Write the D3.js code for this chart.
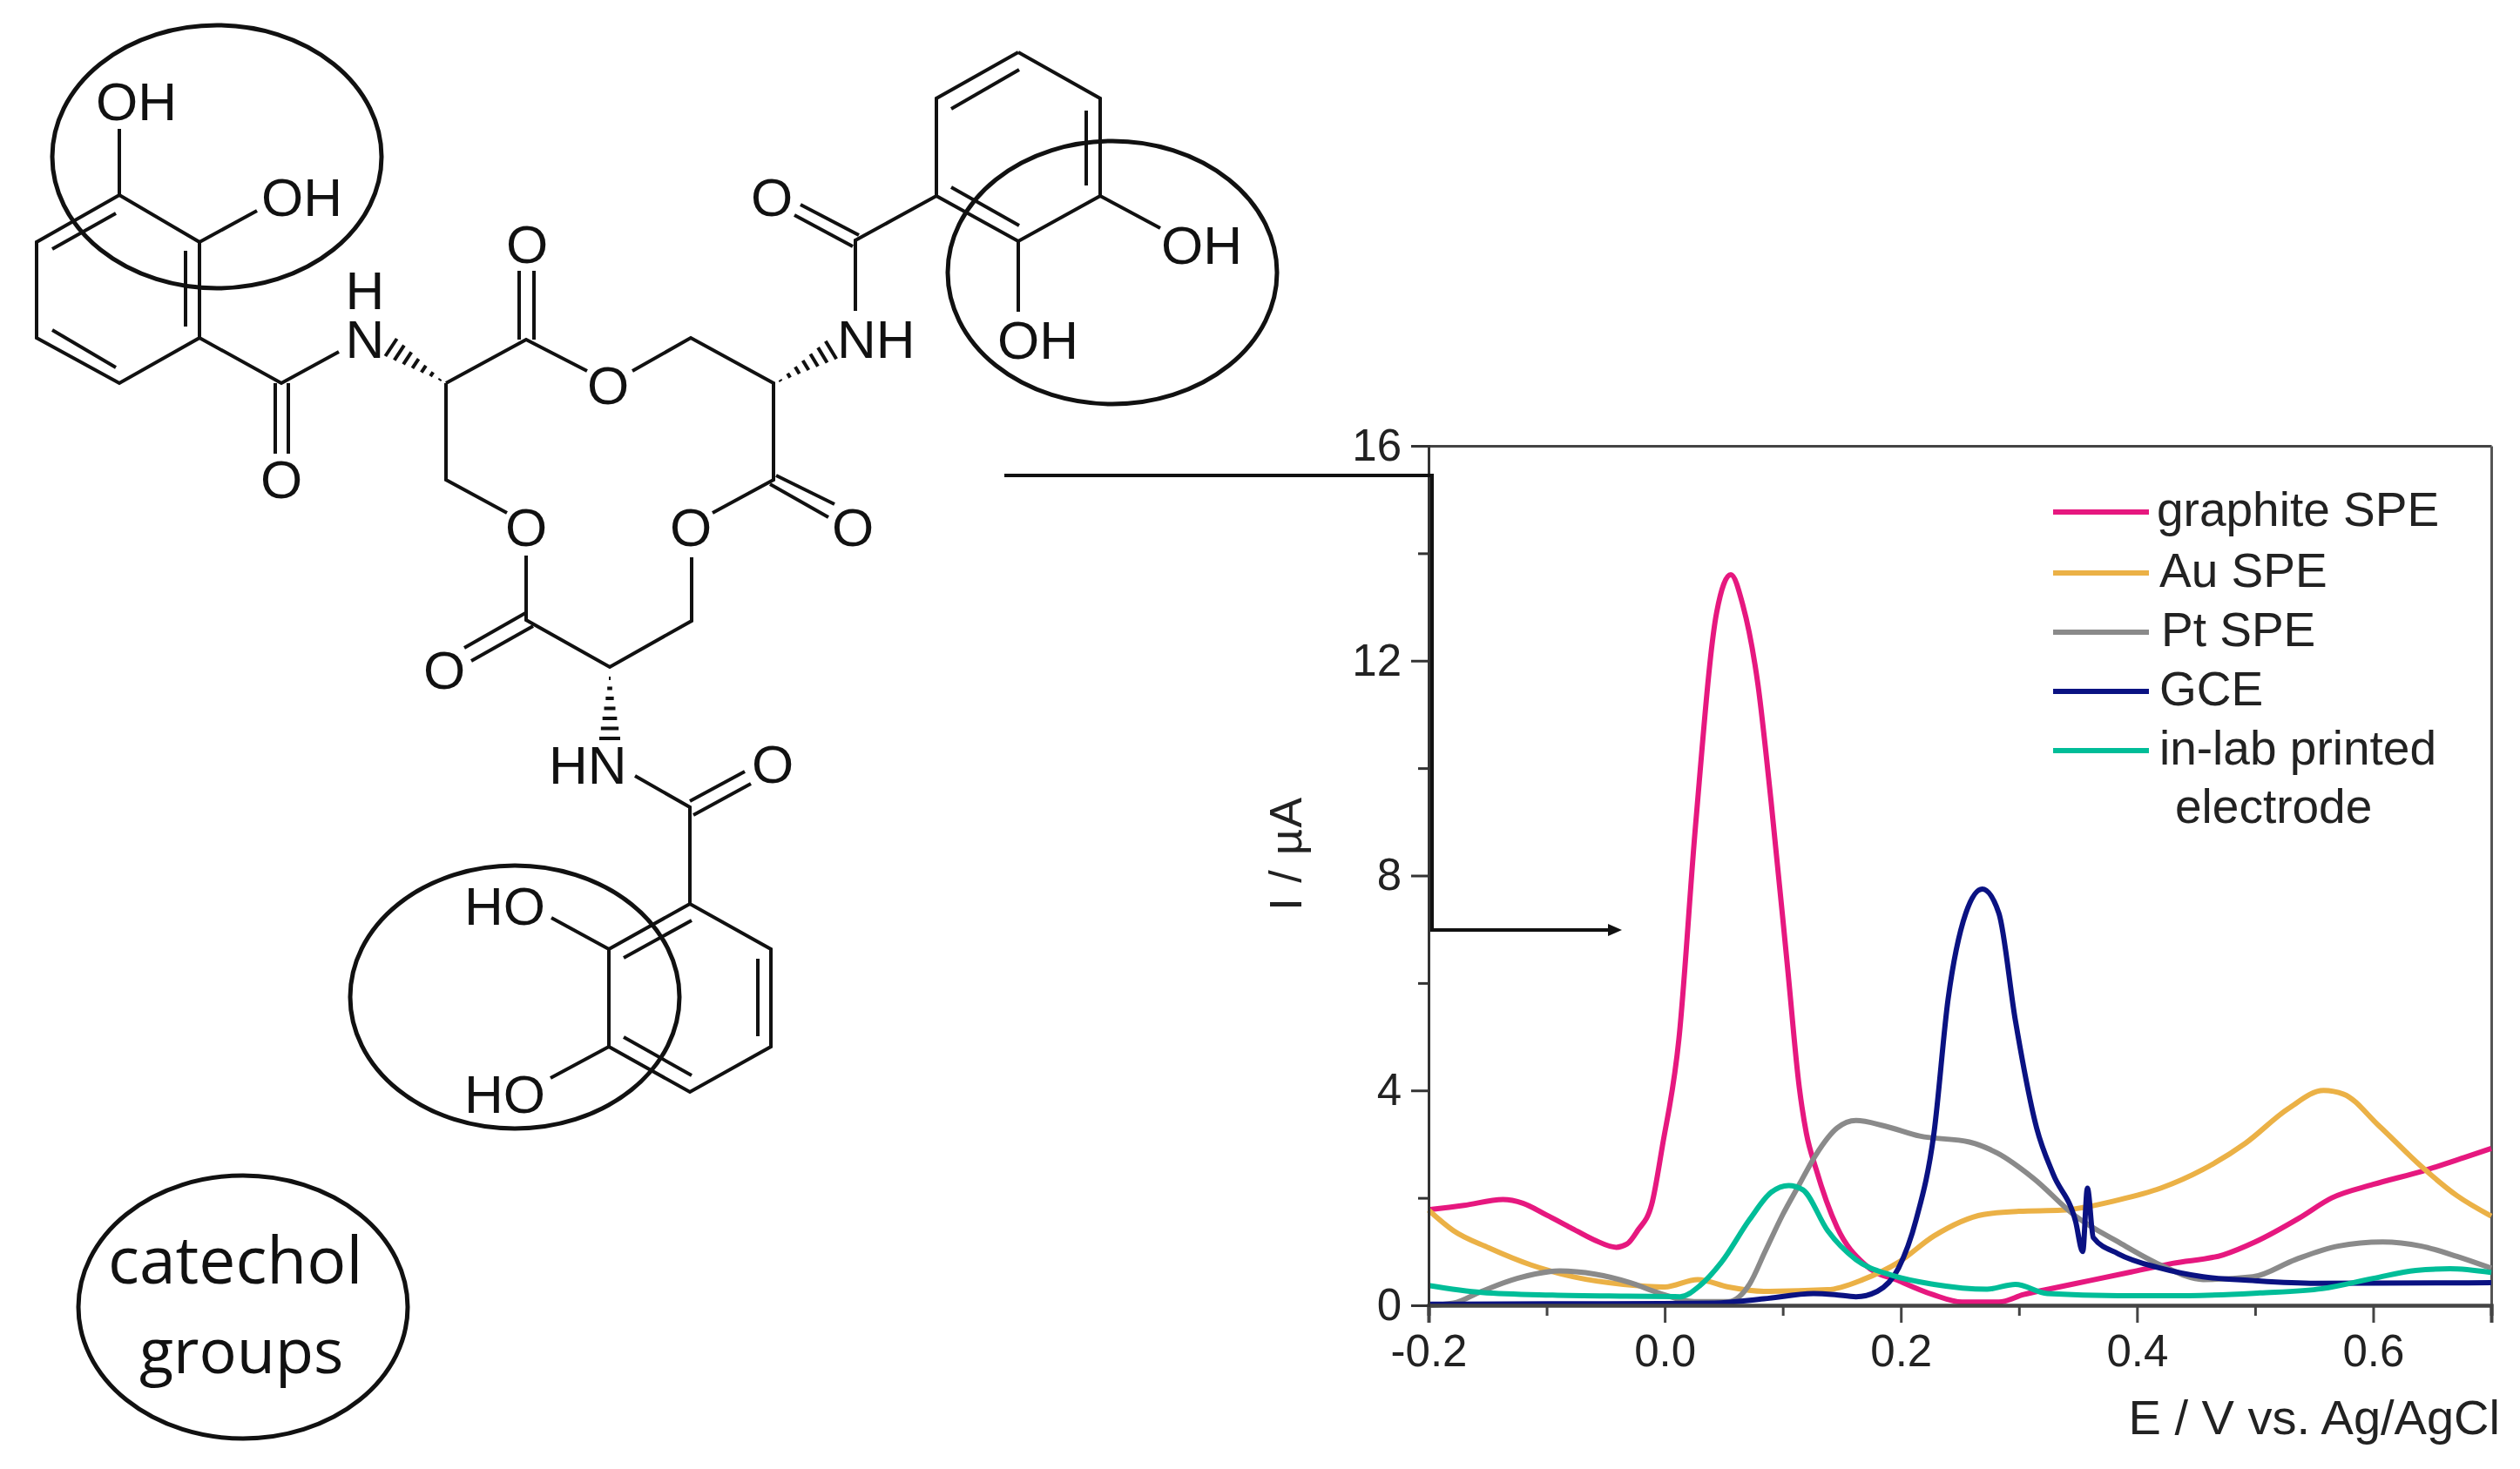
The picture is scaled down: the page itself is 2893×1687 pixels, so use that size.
<!DOCTYPE html>
<html>
<head>
<meta charset="utf-8">
<script src="https://cdn.jsdelivr.net/npm/d3@7"></script>
<style>
  html, body { margin: 0; padding: 0; background: #fff; }
  svg { display: block; }
  text { font-family: "Liberation Sans", Arial, sans-serif; }
</style>
</head>
<body>
<script>
// Voltammetry curves (x in V, y in uA)
var graphiteX = [-0.2,-0.17,-0.137,-0.12,-0.1,-0.08,-0.06,-0.041,-0.032,-0.023,-0.011,-0.002,0.012,0.026,0.044,0.056,0.066,0.079,0.09,0.104,0.114,0.12,0.128,0.146,0.17,0.199,0.227,0.252,0.283,0.304,0.325,0.36,0.395,0.43,0.473,0.5,0.537,0.565,0.6,0.642,0.677,0.7];
var graphiteY = [1.78,1.86,1.97,1.9,1.68,1.45,1.22,1.08,1.14,1.39,1.88,2.96,4.95,8.9,12.9,13.6,13.05,11.55,9.4,6.3,4.05,3.2,2.55,1.45,0.75,0.45,0.2,0.06,0.06,0.2,0.3,0.46,0.62,0.78,0.94,1.18,1.62,2.0,2.25,2.5,2.75,2.92];

var auX = [-0.2,-0.179,-0.149,-0.113,-0.077,-0.035,0,0.028,0.054,0.084,0.138,0.168,0.198,0.228,0.27,0.3,0.336,0.384,0.42,0.456,0.492,0.528,0.558,0.575,0.605,0.641,0.671,0.7];
var auY = [1.77,1.39,1.07,0.75,0.53,0.39,0.34,0.48,0.34,0.26,0.29,0.48,0.8,1.29,1.69,1.75,1.77,1.96,2.18,2.53,3.02,3.66,4.0,3.93,3.34,2.58,2.04,1.66];

var ptX = [-0.2,-0.179,-0.155,-0.125,-0.089,-0.059,-0.029,-0.005,0.025,0.054,0.072,0.085,0.1,0.114,0.128,0.146,0.162,0.186,0.216,0.258,0.282,0.312,0.348,0.384,0.42,0.456,0.498,0.534,0.57,0.608,0.641,0.671,0.7];
var ptY = [0,0.04,0.26,0.5,0.64,0.58,0.42,0.23,0.07,0.07,0.4,1.0,1.69,2.25,2.8,3.3,3.44,3.34,3.15,3.04,2.83,2.37,1.66,1.18,0.75,0.48,0.53,0.85,1.1,1.18,1.1,0.91,0.69];

var gceX = [-0.2,-0.05,0.042,0.084,0.126,0.144,0.162,0.18,0.198,0.213,0.228,0.24,0.255,0.269,0.283,0.297,0.315,0.329,0.348,0.354,0.358,0.363,0.384,0.42,0.456,0.498,0.551,0.7];
var gceY = [0.02,0.03,0.04,0.12,0.22,0.2,0.16,0.26,0.69,1.6,3.2,5.7,7.3,7.75,7.3,5.3,3.3,2.44,1.56,1.0,2.18,1.26,0.96,0.69,0.53,0.46,0.41,0.42];

var inLabX = [-0.2,-0.155,-0.095,-0.035,0.013,0.03,0.048,0.072,0.09,0.105,0.117,0.138,0.162,0.192,0.228,0.273,0.297,0.324,0.384,0.444,0.504,0.557,0.6,0.636,0.665,0.7];
var inLabY = [0.37,0.24,0.19,0.17,0.16,0.37,0.8,1.6,2.1,2.23,2.15,1.39,0.85,0.56,0.39,0.3,0.39,0.22,0.18,0.18,0.23,0.31,0.5,0.65,0.68,0.61];

var seriesNames = ["graphite SPE", "Au SPE", "Pt SPE", "GCE", "in-lab printed"];
var seriesColors = ["#e6187f", "#ebb146", "#8a8a8a", "#0a1282", "#00bd98"];
var xTicks = [-0.2, 0, 0.2, 0.4, 0.6];
var xMinorTicks = [-0.1, 0.1, 0.3, 0.5, 0.7];
var yTicks = [0, 4, 8, 12, 16];
var yMinorTicks = [2, 6, 10, 14];

// Molecule drawing, in page pixels: bonds as polylines
var bonds = [
  // left ring
  [[137,224],[229,278],[229,388],[137,440],[42,388],[42,278],[137,224]],
  [[133,245],[60,286]], [[213,288],[213,375]], [[133,422],[60,379]],
  [[137,224],[137,148]], [[229,278],[295,242]],
  [[229,388],[323,440],[389,404]],
  [[316,440],[316,521]], [[331,440],[331,521]],
  // macrocycle
  [[512,440],[604,390],[674,426]],
  [[596,390],[596,311]], [[613,390],[613,311]],
  [[726,426],[793,388],[888,440],[888,551],[818,589]],
  [[891,546],[958,579]], [[884,556],[951,594]],
  [[512,440],[512,551],[582,589]],
  [[604,638],[604,712],[700,766],[794,713],[794,640]],
  [[533,744],[605,703]], [[541,759],[612,719]],
  // right arm and ring
  [[982,357],[982,276],[1075,225]],
  [[979,283],[912,247]], [[986,270],[919,235]],
  [[1169,60],[1263,113],[1263,225],[1169,277],[1075,225],[1075,113],[1169,60]],
  [[1170,80],[1092,125]], [[1247,127],[1247,213]], [[1092,215],[1170,259]],
  [[1263,225],[1332,262]], [[1169,277],[1169,358]],
  // lower arm and ring
  [[729,891],[792,927],[792,1038]],
  [[792,920],[855,886]], [[796,936],[862,900]],
  [[792,1038],[885,1090],[885,1202],[792,1254],[699,1202],[699,1090],[792,1038]],
  [[870,1101],[870,1190]], [[794,1057],[716,1100]], [[794,1235],[716,1191]],
  [[699,1090],[633,1054]], [[699,1202],[632,1238]]
];
// hashed wedge bonds: narrow end first
var hashes = [
  [[505,436],[449,399]],
  [[896,437],[954,402]],
  [[700,779],[700,848]]
];
var atoms = [
  ["OH",110,138,"start"], ["OH",300,248,"start"], ["H",419,355,"middle"], ["N",419,411,"middle"],
  ["O",323,572,"middle"], ["O",605,302,"middle"], ["O",698,464,"middle"], ["NH",961,411,"start"],
  ["O",886,248,"middle"], ["O",604,627,"middle"], ["O",793,627,"middle"], ["O",979,627,"middle"],
  ["O",510,791,"middle"], ["HN",630,900,"start"], ["O",887,899,"middle"],
  ["HO",533,1062,"start"], ["HO",533,1278,"start"], ["OH",1333,303,"start"], ["OH",1145,412,"start"]
];
var rings = [[249,180],[1277,313],[591,1145],[279,1501]];

// Width and height
var w = 2893;
var h = 1687;

var svg = d3.select("body")
  .append("svg")
  .attr("width", w)
  .attr("height", h);

// Molecule
var mol = svg.append("g").attr("fill", "none").attr("stroke", "#111").attr("stroke-width", 4);
var line = d3.line();
mol.selectAll("path.bond")
  .data(bonds)
  .enter()
  .append("path")
  .attr("class", "bond")
  .attr("d", line)
  .attr("stroke-linejoin", "miter");

hashes.forEach(function(b) {
  var dx = b[1][0] - b[0][0], dy = b[1][1] - b[0][1];
  var len = Math.sqrt(dx * dx + dy * dy);
  var nx = -dy / len, ny = dx / len;
  d3.range(0, 7).forEach(function(i) {
    var t = i / 6, half = 1 + t * 11;
    var cx = b[0][0] + dx * t, cy = b[0][1] + dy * t;
    mol.append("line")
      .attr("x1", cx - nx * half).attr("y1", cy - ny * half)
      .attr("x2", cx + nx * half).attr("y2", cy + ny * half)
      .attr("stroke-width", 4);
  });
});

svg.selectAll("text.atom")
  .data(atoms)
  .enter()
  .append("text")
  .attr("class", "atom")
  .attr("x", function(d) { return d[1]; })
  .attr("y", function(d) { return d[2]; })
  .attr("text-anchor", function(d) { return d[3]; })
  .attr("font-size", 62)
  .attr("fill", "#111")
  .text(function(d) { return d[0]; });

svg.selectAll("ellipse")
  .data(rings)
  .enter()
  .append("ellipse")
  .attr("cx", function(d) { return d[0]; })
  .attr("cy", function(d) { return d[1]; })
  .attr("rx", 189)
  .attr("ry", 151)
  .attr("fill", "none")
  .attr("stroke", "#111")
  .attr("stroke-width", 5);

svg.append("text").attr("x", 124).attr("y", 1474).attr("font-size", 75).attr("fill", "#111")
  .style("font-family", "'Open Sans'").text("catechol");
svg.append("text").attr("x", 160).attr("y", 1577).attr("font-size", 72).attr("fill", "#111")
  .style("font-family", "'Open Sans'").text("groups");

// Plot scales
var x = d3.scaleLinear().domain([-0.2, 0.7]).range([1640, 2860]);
var y = d3.scaleLinear().domain([0, 16]).range([1499, 512]);

function styleAxis(g, color, width) {
  g.selectAll("path").attr("stroke", color).attr("stroke-width", width);
  g.selectAll("line").attr("stroke", color).attr("stroke-width", 3);
  g.selectAll("text").attr("font-size", 51).attr("fill", "#222").attr("font-family", "'Liberation Sans'");
}

// frame
var topAxis = svg.append("g").attr("transform", "translate(0,512)")
  .call(d3.axisTop(x).tickValues([]).tickSize(0));
styleAxis(topAxis, "#444", 3);
var rightAxis = svg.append("g").attr("transform", "translate(2860,0)")
  .call(d3.axisRight(y).tickValues([]).tickSize(0));
styleAxis(rightAxis, "#555", 3);

// Curves
var curve = d3.line()
  .x(function(d) { return x(d[0]); })
  .y(function(d) { return y(d[1]); })
  .curve(d3.curveMonotoneX);

var curves = [d3.zip(graphiteX, graphiteY), d3.zip(auX, auY), d3.zip(ptX, ptY), d3.zip(gceX, gceY), d3.zip(inLabX, inLabY)];
svg.selectAll("path.curve")
  .data(curves)
  .enter()
  .append("path")
  .attr("class", "curve")
  .attr("d", curve)
  .attr("fill", "none")
  .attr("stroke", function(d, i) { return seriesColors[i]; })
  .attr("stroke-width", 6)
  .attr("stroke-linejoin", "round");

// Axes
var xAxis = svg.append("g").attr("transform", "translate(0,1499)")
  .call(d3.axisBottom(x).tickValues(xTicks).tickSize(20).tickPadding(14)
    .tickFormat(function(d) { return d.toFixed(1); }));
styleAxis(xAxis, "#444", 4);
var xMinor = svg.append("g").attr("transform", "translate(0,1499)")
  .call(d3.axisBottom(x).tickValues(xMinorTicks).tickSize(12).tickFormat(""));
styleAxis(xMinor, "#444", 4);
var yAxis = svg.append("g").attr("transform", "translate(1640,0)")
  .call(d3.axisLeft(y).tickValues(yTicks).tickSize(20).tickPadding(11).tickFormat(d3.format("d")));
styleAxis(yAxis, "#333", 3);
var yMinor = svg.append("g").attr("transform", "translate(1640,0)")
  .call(d3.axisLeft(y).tickValues(yMinorTicks).tickSize(12).tickFormat(""));
styleAxis(yMinor, "#333", 3);

svg.append("text").attr("x", 2870).attr("y", 1647).attr("text-anchor", "end")
  .attr("font-size", 56).attr("fill", "#222").text("E / V vs. Ag/AgCl");
svg.append("text").attr("transform", "translate(1494,980) rotate(-90)").attr("text-anchor", "middle")
  .attr("font-size", 52).attr("letter-spacing", 1.5).attr("fill", "#222").text("I / \u00b5A");

// Connector from the molecule to the plot
svg.append("path")
  .attr("d", d3.line()([[1153,546],[1644,546],[1644,1068],[1850,1068]]))
  .attr("fill", "none").attr("stroke", "#111").attr("stroke-width", 4);
svg.append("path")
  .attr("d", d3.line()([[1862,1068],[1846,1061],[1846,1075]]) + "Z")
  .attr("fill", "#111");

// Legend
var legendY = [588, 658, 726, 794, 862];
var legendTextX = [2476, 2479, 2481, 2479, 2479];
var legend = svg.selectAll("g.legend")
  .data(seriesNames)
  .enter()
  .append("g")
  .attr("class", "legend");
legend.append("line")
  .attr("x1", 2357).attr("x2", 2467)
  .attr("y1", function(d, i) { return legendY[i]; })
  .attr("y2", function(d, i) { return legendY[i]; })
  .attr("stroke", function(d, i) { return seriesColors[i]; })
  .attr("stroke-width", 6);
legend.append("text")
  .attr("x", function(d, i) { return legendTextX[i]; })
  .attr("y", function(d, i) { return legendY[i] + 16; })
  .attr("font-size", 55)
  .attr("fill", "#222")
  .text(function(d) { return d; });
svg.append("text").attr("x", 2497).attr("y", 945).attr("font-size", 55).attr("fill", "#222").text("electrode");
</script>
</body>
</html>
